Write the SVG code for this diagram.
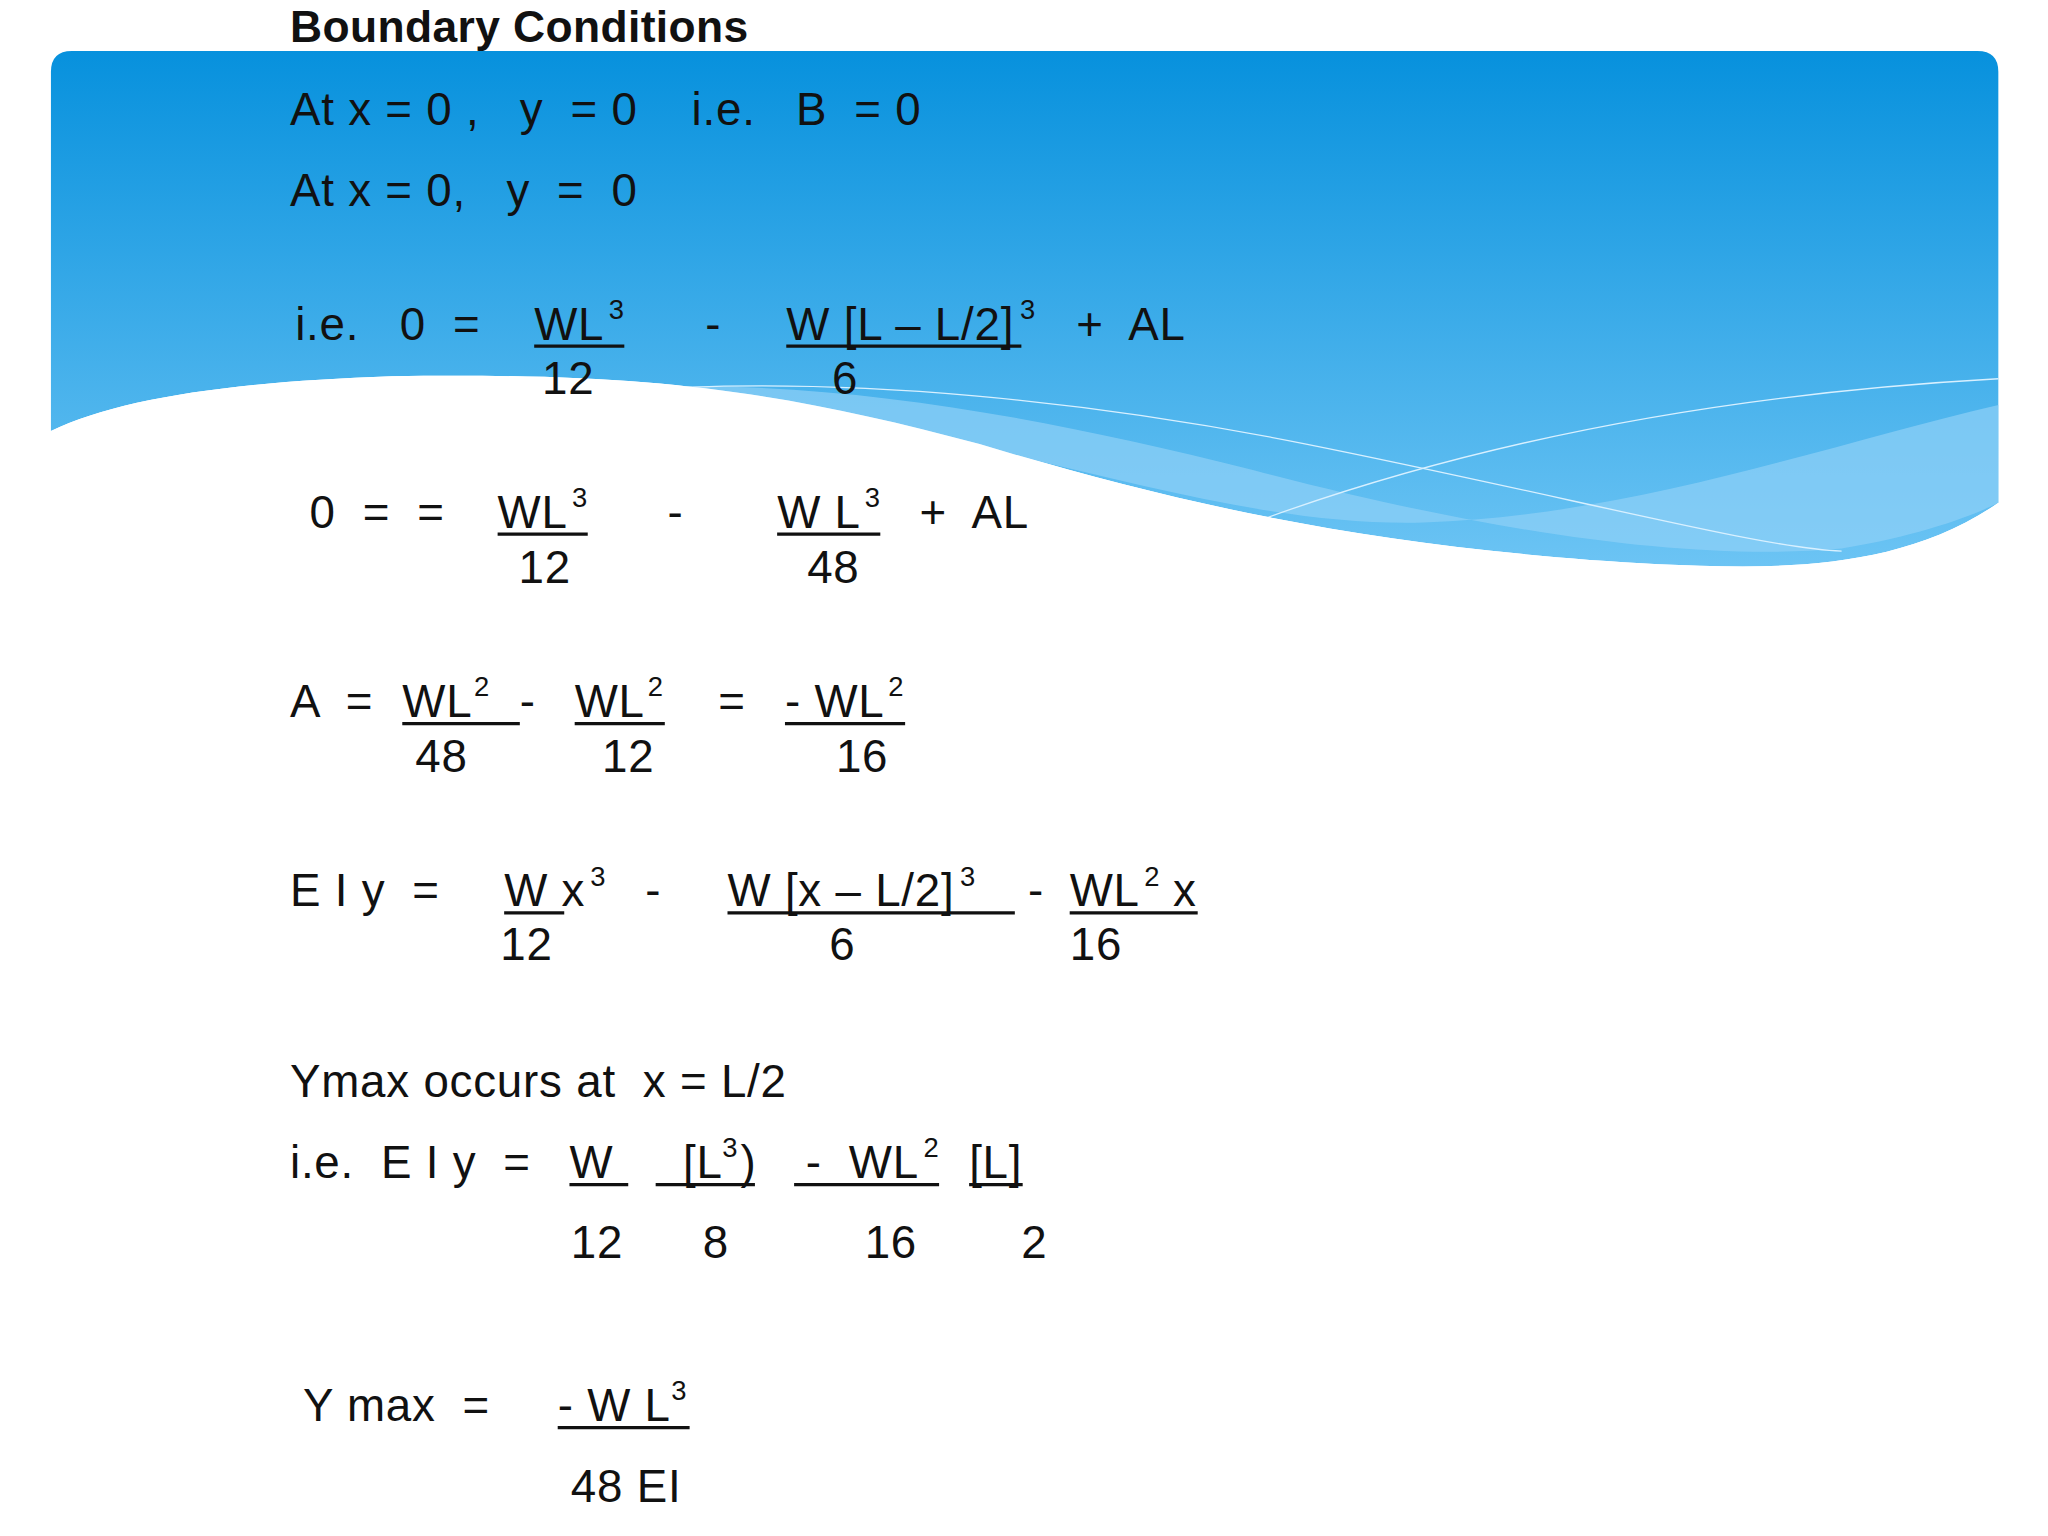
<svg xmlns="http://www.w3.org/2000/svg" width="2048" height="1536" viewBox="0 0 2048 1536">
<defs>
<linearGradient id="bg" x1="0" y1="0" x2="0" y2="1"><stop offset="0" stop-color="#0791dd"/><stop offset="1" stop-color="#6cc4f4"/></linearGradient>
<style>
text{font-family:"Liberation Sans",Arial,sans-serif;font-size:35px;letter-spacing:0.6px;fill:#111;white-space:pre}
.s{font-size:21px;letter-spacing:0}
.b{font-weight:bold;font-size:34px;letter-spacing:0.3px}
line{stroke:#111;stroke-width:2.5}
</style>
</defs>
<rect width="2048" height="1536" fill="#fff"/>
<g transform="scale(1.3061)">
<g id="background">
<path d="M39,55 Q39,39 55,39 H1514 Q1530,39 1530,55 V385 C1450,440 1350,435 1270,432 C1050,420 900,385 750,340 C600,300 500,285 300,288 C180,292 90,305 39,330 Z" fill="url(#bg)"/>
<path d="M430,300 C600,285 760,310 960,360 C1150,410 1300,430 1410,420 C1470,410 1510,395 1530,385 V310 C1400,340 1250,395 1090,400 C900,405 700,300 430,300 Z" fill="#8fd0f6" opacity="0.7"/>
<path d="M470,300 C650,285 850,310 1000,340 C1200,380 1350,420 1410,422" fill="none" stroke="#d8f0ff" stroke-width="1"/>
<path d="M960,400 C1150,330 1350,300 1530,290" fill="none" stroke="#d8f0ff" stroke-width="1"/>
<path d="M39,330 C90,305 180,292 300,288 C500,285 600,300 750,340 C900,385 1050,420 1270,432 C1350,435 1450,440 1530,385 V1176 H39 Z" fill="#fff"/>
</g>
<g id="text">
<text x="222" y="32" class="b">Boundary Conditions</text>
<text x="222" y="96">At x = 0 ,   y  = 0    i.e.   B  = 0</text>
<text x="222" y="158">At x = 0,   y  =  0</text>

<text x="226" y="260">i.e.   0  =</text>
<text x="409" y="260">WL</text><text x="466" y="244" class="s">3</text>
<text x="415" y="302">12</text>
<text x="540" y="260">-</text>
<text x="602" y="260">W [L – L/2]</text><text x="781" y="244" class="s">3</text>
<text x="637" y="302">6</text>
<text x="824" y="260">+  AL</text>

<text x="237" y="404">0  =  =</text>
<text x="381" y="404">WL</text><text x="438" y="388" class="s">3</text>
<text x="397" y="446">12</text>
<text x="511" y="404">-</text>
<text x="595" y="404">W L</text><text x="662" y="388" class="s">3</text>
<text x="618" y="446">48</text>
<text x="704" y="404">+  AL</text>

<text x="222" y="549">A  =</text>
<text x="308" y="549">WL</text><text x="363" y="533" class="s">2</text>
<text x="398" y="549">-</text>
<text x="318" y="591">48</text>
<text x="440" y="549">WL</text><text x="496" y="533" class="s">2</text>
<text x="461" y="591">12</text>
<text x="550" y="549">=</text>
<text x="601" y="549">- WL</text><text x="680" y="533" class="s">2</text>
<text x="640" y="591">16</text>

<text x="222" y="694">E I y  =</text>
<text x="386" y="694">W x</text><text x="452" y="678" class="s">3</text>
<text x="383" y="735">12</text>
<text x="494" y="694">-</text>
<text x="557" y="694">W [x – L/2]</text><text x="735" y="678" class="s">3</text>
<text x="635" y="735">6</text>
<text x="787" y="694">-</text>
<text x="819" y="694">WL</text><text x="876" y="678" class="s">2</text><text x="898" y="694">x</text>
<text x="819" y="735">16</text>

<text x="222" y="840">Ymax occurs at  x = L/2</text>
<text x="222" y="902">i.e.  E I y  =</text>
<text x="436" y="902">W</text>
<text x="523" y="902">[L</text><text x="553" y="886" class="s">3</text><text x="567" y="902">)</text>
<text x="617" y="902">-  WL</text><text x="707" y="886" class="s">2</text>
<text x="742" y="902">[L]</text>
<text x="437" y="963">12</text><text x="538" y="963">8</text><text x="662" y="963">16</text><text x="782" y="963">2</text>

<text x="232" y="1088">Y max  =</text>
<text x="427" y="1088">- W L</text><text x="514" y="1072" class="s">3</text>
<text x="437" y="1150">48 EI</text>
</g>
<g id="fraction-bars">
<line x1="409" y1="265" x2="478" y2="265"/>
<line x1="602" y1="265" x2="782" y2="265"/>
<line x1="381" y1="409" x2="450" y2="409"/>
<line x1="595" y1="409" x2="674" y2="409"/>
<line x1="308" y1="554" x2="398" y2="554"/>
<line x1="440" y1="554" x2="509" y2="554"/>
<line x1="601" y1="554" x2="693" y2="554"/>
<line x1="386" y1="699" x2="432" y2="699"/>
<line x1="557" y1="699" x2="777" y2="699"/>
<line x1="819" y1="699" x2="917" y2="699"/>
<line x1="436" y1="907" x2="481" y2="907"/>
<line x1="502" y1="907" x2="578" y2="907"/>
<line x1="608" y1="907" x2="719" y2="907"/>
<line x1="742" y1="907" x2="783" y2="907"/>
<line x1="427" y1="1093" x2="528" y2="1093"/>
</g>
</g>
</svg>
